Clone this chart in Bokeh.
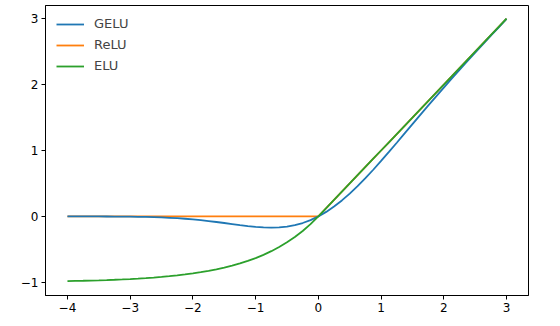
from bokeh.plotting import figure
from bokeh.models import FixedTicker, Legend, LegendItem, Range1d
from bokeh.embed import file_html
from bokeh.resources import INLINE

x_vals = [-4.0, -3.875, -3.75, -3.625, -3.5, -3.375, -3.25, -3.125,
          -3.0, -2.875, -2.75, -2.625, -2.5, -2.375, -2.25, -2.125,
          -2.0, -1.875, -1.75, -1.625, -1.5, -1.375, -1.25, -1.125,
          -1.0, -0.875, -0.75, -0.625, -0.5, -0.375, -0.25, -0.125,
          0.0, 0.125, 0.25, 0.375, 0.5, 0.625, 0.75, 0.875,
          1.0, 1.125, 1.25, 1.375, 1.5, 1.625, 1.75, 1.875,
          2.0, 2.125, 2.25, 2.375, 2.5, 2.625, 2.75, 2.875, 3.0]
gelu_vals = [-0.0001, -0.0002, -0.0003, -0.0005, -0.0008, -0.0012, -0.0019, -0.0028,
             -0.0040, -0.0058, -0.0082, -0.0114, -0.0155, -0.0208, -0.0275, -0.0357,
             -0.0455, -0.0570, -0.0701, -0.0846, -0.1002, -0.1163, -0.1321, -0.1466,
             -0.1587, -0.1669, -0.1700, -0.1662, -0.1543, -0.1327, -0.1003, -0.0563,
             0.0, 0.0687, 0.1497, 0.2423, 0.3457, 0.4588, 0.5800, 0.7081,
             0.8413, 0.9784, 1.1179, 1.2587, 1.3998, 1.5404, 1.6799, 1.8180,
             1.9545, 2.0893, 2.2225, 2.3542, 2.4845, 2.6136, 2.7418, 2.8692, 2.9960]
relu_vals = [0.0, 0.0, 0.0, 0.0, 0.0, 0.0, 0.0, 0.0,
             0.0, 0.0, 0.0, 0.0, 0.0, 0.0, 0.0, 0.0,
             0.0, 0.0, 0.0, 0.0, 0.0, 0.0, 0.0, 0.0,
             0.0, 0.0, 0.0, 0.0, 0.0, 0.0, 0.0, 0.0,
             0.0, 0.125, 0.25, 0.375, 0.5, 0.625, 0.75, 0.875,
             1.0, 1.125, 1.25, 1.375, 1.5, 1.625, 1.75, 1.875,
             2.0, 2.125, 2.25, 2.375, 2.5, 2.625, 2.75, 2.875, 3.0]
elu_vals = [-0.9817, -0.9793, -0.9765, -0.9734, -0.9698, -0.9658, -0.9612, -0.9561,
            -0.9502, -0.9436, -0.9361, -0.9276, -0.9179, -0.9070, -0.8946, -0.8806,
            -0.8647, -0.8467, -0.8262, -0.8031, -0.7769, -0.7472, -0.7135, -0.6754,
            -0.6321, -0.5831, -0.5276, -0.4647, -0.3935, -0.3127, -0.2212, -0.1175,
            0.0, 0.125, 0.25, 0.375, 0.5, 0.625, 0.75, 0.875,
            1.0, 1.125, 1.25, 1.375, 1.5, 1.625, 1.75, 1.875,
            2.0, 2.125, 2.25, 2.375, 2.5, 2.625, 2.75, 2.875, 3.0]
series_names = ["GELU", "ReLU", "ELU"]
x_ticks = [-4, -3, -2, -1, 0, 1, 2, 3]
y_ticks = [-1, 0, 1, 2, 3]

p = figure(width=560, height=326, output_backend="svg", toolbar_location=None,
           x_range=Range1d(-4.35, 3.35), y_range=Range1d(-1.2, 3.2),
           min_border_left=45, min_border_right=32, min_border_top=5, min_border_bottom=31)
p.xgrid.visible = False
p.ygrid.visible = False
p.outline_line_color = "black"
p.outline_line_width = 1

colors = {"GELU": "#1f77b4", "ReLU": "#ff7f0e", "ELU": "#2ca02c"}
lw = 1.8
r_relu = p.line(x_vals, relu_vals, line_color=colors["ReLU"], line_width=lw)
r_gelu = p.line(x_vals, gelu_vals, line_color=colors["GELU"], line_width=lw)
r_elu = p.line(x_vals, elu_vals, line_color=colors["ELU"], line_width=lw)
renderers = {"GELU": r_gelu, "ReLU": r_relu, "ELU": r_elu}

def fmt(v):
    return ("\u2212" + str(abs(v))) if v < 0 else str(v)

for ax, ticks in ((p.xaxis, x_ticks), (p.yaxis, y_ticks)):
    ax.ticker = FixedTicker(ticks=ticks)
    ax.major_label_overrides = {t: fmt(t) for t in ticks}
    ax.major_tick_out = 4
    ax.major_tick_in = 0
    ax.minor_tick_out = 0
    ax.minor_tick_in = 0
    ax.axis_line_color = "black"
    ax.major_tick_line_color = "black"
    ax.major_label_text_font = "DejaVu Sans"
    ax.major_label_text_font_size = "12px"
    ax.major_label_text_color = "black"
    ax.major_label_standoff = 3

legend = Legend(items=[LegendItem(label=n, renderers=[renderers[n]]) for n in series_names],
                location="top_left")
legend.border_line_alpha = 0
legend.background_fill_alpha = 0
legend.label_text_font = "DejaVu Sans"
legend.label_text_font_size = "13px"
legend.glyph_width = 28
legend.glyph_height = 14
legend.label_height = 14
legend.spacing = 6
legend.padding = 7
legend.margin = 4
legend.label_standoff = 10
p.add_layout(legend)

open("out.html", "w").write(file_html(p, INLINE))
